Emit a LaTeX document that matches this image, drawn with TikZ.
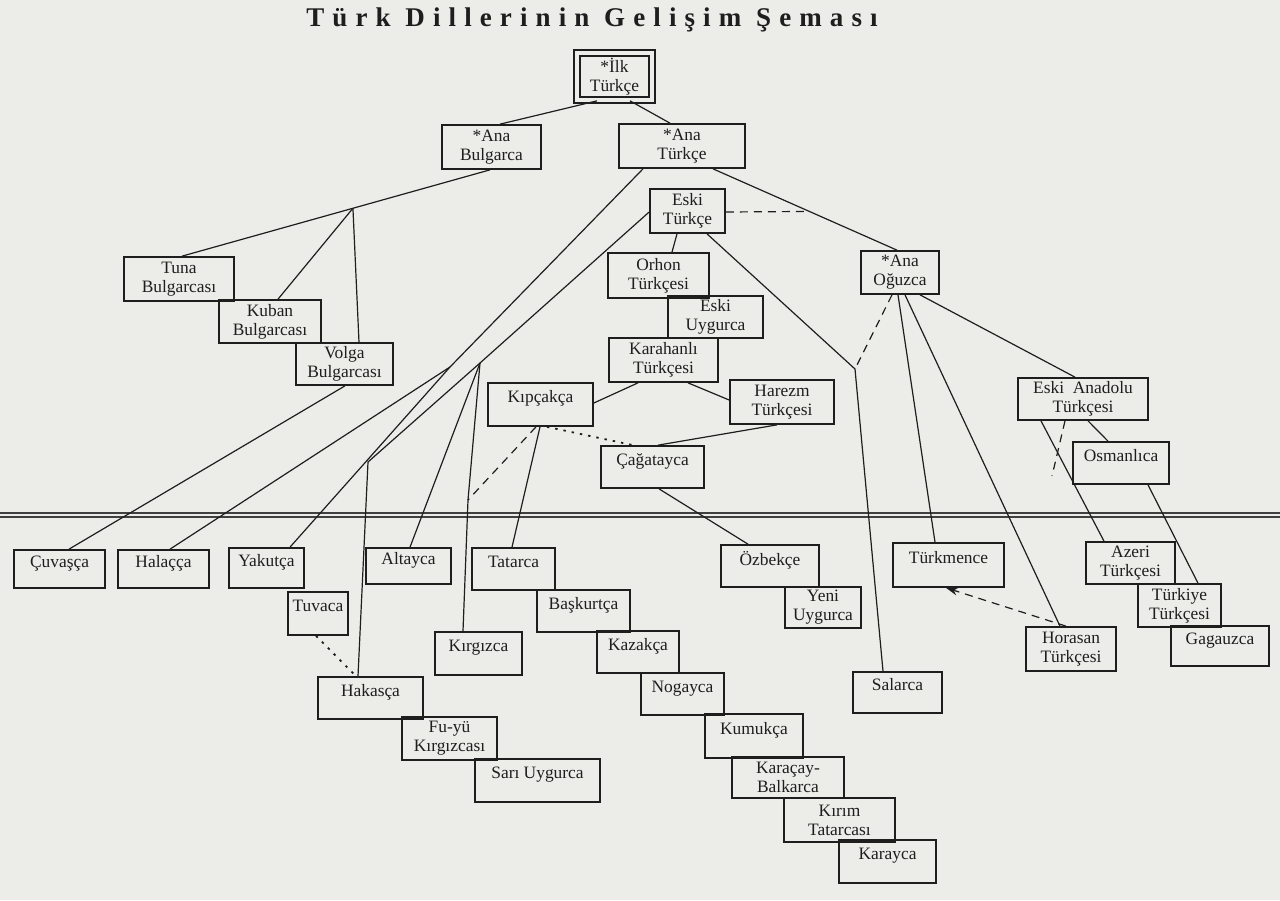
\documentclass[tikz,border=0pt]{standalone}
\usepackage{fontspec}
\setmainfont{Liberation Serif}
\newfontfamily\titlefont[LetterSpace=30]{Liberation Serif}
\usetikzlibrary{calc,arrows.meta}
\definecolor{paper}{RGB}{236,236,232}
\definecolor{ink}{RGB}{30,30,30}
\newcommand{\lup}[1]{#1\\[-2pt]\mbox{}}
\tikzset{
  lang/.style={draw=ink, line width=0.85pt, rectangle, inner sep=0pt, align=center,
    font=\fontsize{8.7}{9.6}\selectfont, text=ink},
  wh/.style 2 args={minimum width=#1*0.5pt, minimum height=#2*0.5pt},
  link/.style={draw=ink, line width=0.6pt},
  dashlink/.style={link, dash pattern=on 4pt off 3pt},
  dotlink/.style={link, line width=0.9pt, dash pattern=on 1.2pt off 3pt},
  crease/.style={draw=black!75, line width=0.6pt},
}
\begin{document}
\begin{tikzpicture}[x=0.5pt,y=-0.5pt]
\fill[paper] (0,0) rectangle (1280,900);
\useasboundingbox (0,0) rectangle (1280,900);
\draw[crease] (0,513) -- (1280,513);
\draw[crease] (0,517) -- (1280,517);

\node[font=\titlefont\bfseries\fontsize{13.5}{15}\selectfont, text=ink] (title) at (592,20) {Türk Dillerinin Gelişim Şeması};

% nodes
\node[lang, wh={75}{47}, double=paper, double distance=2pt] (ilk) at (614.5,76.5) {*İlk\\Türkçe};
\node[lang, wh={99}{44}] (anabulg) at (491.5,147) {*Ana\\Bulgarca};
\node[lang, wh={126}{44}] (anaturk) at (682,146) {*Ana\\Türkçe};
\node[lang, wh={75}{44}] (eskiturk) at (687.5,211) {Eski\\Türkçe};
\node[lang, wh={101}{45}] (orhon) at (658.5,275.5) {Orhon\\Türkçesi};
\node[lang, wh={95}{42}] (eskiuyg) at (715.5,317) {Eski\\Uygurca};
\node[lang, wh={109}{44}] (karahanli) at (663.5,360) {Karahanlı\\Türkçesi};
\node[lang, wh={105}{43}] (kipcak) at (540.5,404.5) {\lup{Kıpçakça}};
\node[lang, wh={104}{44}] (harezm) at (782,402) {Harezm\\Türkçesi};
\node[lang, wh={103}{42}] (cagatay) at (652.5,467) {\lup{Çağatayca}};
\node[lang, wh={78}{43}] (anaoguz) at (900,272.5) {*Ana\\Oğuzca};
\node[lang, wh={130}{42}] (eskianadolu) at (1083,399) {Eski~~Anadolu\\Türkçesi};
\node[lang, wh={96}{42}] (osmanli) at (1121,463) {\lup{Osmanlıca}};
\node[lang, wh={110}{44}] (tuna) at (179,279) {Tuna\\Bulgarcası};
\node[lang, wh={102}{43}] (kuban) at (270,321.5) {Kuban\\Bulgarcası};
\node[lang, wh={97}{42}] (volga) at (344.5,364) {Volga\\Bulgarcası};
\node[lang, wh={91}{38}] (cuvas) at (59.5,569) {\lup{Çuvaşça}};
\node[lang, wh={91}{38}] (halac) at (163.5,569) {\lup{Halaçça}};
\node[lang, wh={75}{40}] (yakut) at (266.5,568) {\lup{Yakutça}};
\node[lang, wh={85}{36}] (altay) at (408.5,566) {\lup{Altayca}};
\node[lang, wh={83}{42}] (tatar) at (513.5,569) {\lup{Tatarca}};
\node[lang, wh={93}{42}] (baskurt) at (583.5,611) {\lup{Başkurtça}};
\node[lang, wh={82}{42}] (kazak) at (638,652) {\lup{Kazakça}};
\node[lang, wh={83}{42}] (nogay) at (682.5,694) {\lup{Nogayca}};
\node[lang, wh={98}{44}] (kumuk) at (754,736) {\lup{Kumukça}};
\node[lang, wh={112}{41}] (karacay) at (788,777.5) {Karaçay-\\Balkarca};
\node[lang, wh={111}{44}] (kirim) at (839.5,820) {Kırım\\Tatarcası};
\node[lang, wh={97}{43}] (karay) at (887.5,861.5) {\lup{Karayca}};
\node[lang, wh={60}{43}] (tuva) at (318,613.5) {\lup{Tuvaca}};
\node[lang, wh={87}{43}] (kirgiz) at (478.5,653.5) {\lup{Kırgızca}};
\node[lang, wh={105}{42}] (hakas) at (370.5,698) {\lup{Hakasça}};
\node[lang, wh={95}{43}] (fuyu) at (449.5,738.5) {Fu-yü\\Kırgızcası};
\node[lang, wh={125}{43}] (sari) at (537.5,780.5) {\lup{Sarı Uygurca}};
\node[lang, wh={89}{41}] (salar) at (897.5,692.5) {\lup{Salarca}};
\node[lang, wh={98}{42}] (ozbek) at (770,566) {\lup{Özbekçe}};
\node[lang, wh={76}{41}] (yeniuyg) at (823,607.5) {Yeni\\Uygurca};
\node[lang, wh={111}{44}] (turkmen) at (948.5,565) {\lup{Türkmence}};
\node[lang, wh={89}{42}] (azeri) at (1130.5,563) {Azeri\\Türkçesi};
\node[lang, wh={83}{43}] (turkiye) at (1179.5,605.5) {Türkiye\\Türkçesi};
\node[lang, wh={98}{40}] (gagauz) at (1220,646) {\lup{Gagauzca}};
\node[lang, wh={90}{44}] (horasan) at (1071,649) {Horasan\\Türkçesi};

% junction coordinates
\coordinate (j1) at ($(anabulg.south -| 490,0)!0.445!(tuna.north -| 182,0)$);
\coordinate (jA) at (450,367);
\coordinate (jB) at (480,363);
\coordinate (jH) at (368,462);
\coordinate (jK) at (468,500);
\coordinate (jS) at (855,369);
\coordinate (jE) at ($(anaturk.south -| 713,0)!0.524!(anaoguz.north -| 897,0)$);
\coordinate (jD) at (1052,476);

% connectors
\draw[link] (ilk.south -| 597,0) -- (anabulg.north -| 500,0);
\draw[link] (ilk.south -| 630,0) -- (anaturk.north -| 670,0);
\draw[link] (anabulg.south -| 490,0) -- (tuna.north -| 182,0);
\draw[link] (j1) -- (kuban.north -| 278,0);
\draw[link] (j1) -- (volga.north -| 359,0);
\draw[link] (volga.south -| 345,0) -- (cuvas.north -| 69,0);
\draw[link] (anaturk.south -| 643,0) -- (jA);
\draw[link] (jA) -- (halac.north -| 170,0);
\draw[link] (jA) -- (yakut.north -| 290,0);
\draw[link] (eskiturk.west |- 0,212) -- (jB);
\draw[link] (jB) -- (altay.north -| 410,0);
\draw[link] (jB) -- (jK) -- (kirgiz.north -| 463,0);
\draw[link] (jB) -- (jH) -- (hakas.north -| 358,0);
\draw[dashlink] (kipcak.south -| 536,0) -- (jK);
\draw[link] (kipcak.south -| 540,0) -- (tatar.north -| 512,0);
\draw[dotlink] (tuva.south -| 316,0) -- (hakas.north -| 356,0);
\draw[link] (karahanli.south -| 638,0) -- (kipcak.east |- 0,403);
\draw[link] (karahanli.south -| 688,0) -- (harezm.west |- 0,400);
\draw[link] (harezm.south -| 777,0) -- (cagatay.north -| 658,0);
\draw[dotlink] (kipcak.south -| 547,0) -- (cagatay.north -| 633,0);
\draw[link] (cagatay.south -| 659,0) -- (ozbek.north -| 748,0);
\draw[link] (eskiturk.south -| 677,0) -- (orhon.north -| 672,0);
\draw[link] (eskiturk.south -| 707,0) -- (jS) -- (salar.north -| 883,0);
\draw[dashlink] (anaoguz.south -| 892,0) -- (jS);
\draw[link] (anaturk.south -| 713,0) -- (anaoguz.north -| 897,0);
\draw[dashlink] (eskiturk.east |- 0,212) -- (jE);
\draw[link] (anaoguz.south -| 920,0) -- (eskianadolu.north -| 1075,0);
\draw[link] (anaoguz.south -| 898,0) -- (turkmen.north -| 935,0);
\draw[link] (anaoguz.south -| 905,0) -- (horasan.north -| 1060,0);
\draw[link] (eskianadolu.south -| 1088,0) -- (osmanli.north -| 1108,0);
\draw[dashlink] (eskianadolu.south -| 1065,0) -- (jD);
\draw[link] (eskianadolu.south -| 1041,0) -- (azeri.north -| 1104,0);
\draw[link] (osmanli.south -| 1148,0) -- (turkiye.north -| 1198,0);
\draw[dashlink, -{Stealth[length=6pt,width=4pt]}] (horasan.north -| 1066,0) -- (turkmen.south -| 946,0);
\end{tikzpicture}
\end{document}
